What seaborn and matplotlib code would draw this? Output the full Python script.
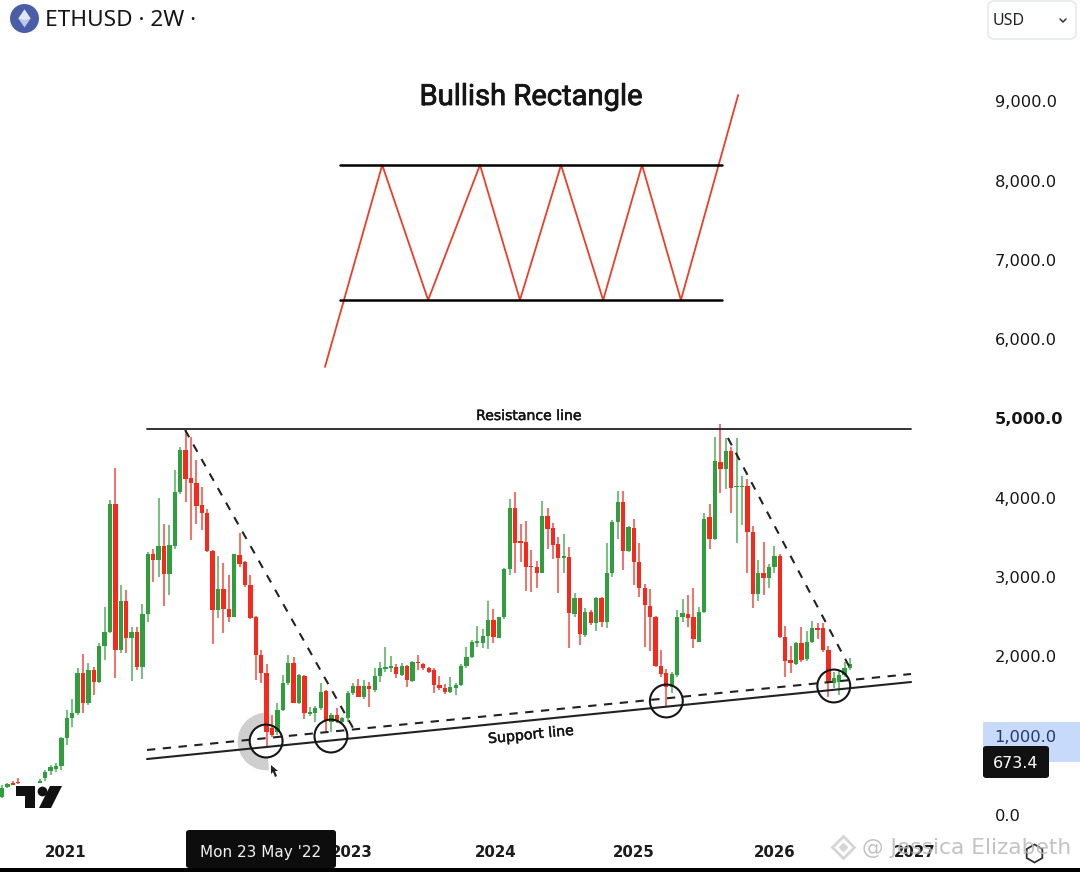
import numpy as np
import pandas as pd
import matplotlib.pyplot as plt
import matplotlib.patheffects as pe
from matplotlib.patches import FancyBboxPatch, Polygon, Circle, Rectangle
from matplotlib.path import Path
from matplotlib.markers import MarkerStyle
import seaborn as sns

nan = np.nan

#2 week candles
opens = [231,357,399,416,nan,nan,nan,407,462,559,
         576,618,967,1219,1281,1786,1407,1827,1672,2130,
         2310,3917,2079,2698,2226,2303,1869,2541,3297,3213,
         3390,3045,3390,4071,4607,4245,4190,3906,3812,3333,
         2583,2848,2600,2499,3276,3192,2906,2499,2024,1797,
         1092,1050,1323,1659,1920,1407,1751,1273,1290,1344,
         1566,1176,1260,1176,1218,1533,1625,1484,1631,1576,
         1753,1837,1849,1870,1765,1879,1694,1933,1904,1849,
         1828,1639,1605,1555,1605,1639,1879,1996,2165,2173,
         2257,2459,2236,2492,3098,3867,3459,3447,3144,3123,
         3056,3770,3615,3417,3245,3249,2534,2732,2270,2564,
         2417,2740,2438,3056,3699,3942,3333,3615,3194,2858,
         2639,2501,1879,1786,1618,1765,2492,2534,2501,2186,
         2564,3753,3476,4455,4363,4590,4131,4140,4148,3564,
         2782,3047,2984,3131,3270,2249,1954,1904,2165,1963,
         2177,2354,2354,2080,1660,1681,1765,1858]
closes = [336,391,382,399,nan,nan,nan,433,546,601,
          618,967,1219,1290,1786,1407,1827,1672,2130,2310,
          3917,2079,2698,2226,2303,1869,2541,3297,3213,3390,
          3045,3402,4071,4607,4236,4181,3900,3812,3333,2583,
          2848,2597,2499,3286,3171,2898,2486,2024,1797,1050,
          1008,1323,1667,1920,1407,1764,1281,1302,1344,1554,
          1197,1260,1189,1218,1533,1625,1491,1631,1584,1753,
          1849,1870,1879,1778,1879,1702,1925,1912,1849,1807,
          1639,1597,1555,1610,1639,1879,1996,2186,2194,2257,
          2459,2240,2492,3098,3867,3434,3434,3131,3127,3056,
          3770,3610,3404,3236,3266,2543,2732,2278,2564,2417,
          2732,2438,3056,3699,3942,3333,3627,3194,2858,2648,
          2501,1879,1778,1618,1778,2492,2543,2488,2215,2564,
          3732,3476,4464,4363,4590,4119,4153,4153,3564,2782,
          3047,2984,3131,3270,2240,1946,1912,2165,1954,2177,
          2354,2333,2080,1681,1723,1765,1849,1904]
highs = [378,407,433,462,nan,nan,nan,450,567,630,
         651,988,1323,1458,1849,2029,1919,1870,2172,2625,
         3970,4370,2898,2835,2373,2373,2667,3318,3360,4002,
         3666,3654,4347,4644,4853,4770,4476,4140,3864,3339,
         3263,3180,3024,3297,3559,3205,3024,2507,2079,1898,
         1260,1407,1764,2016,1995,1777,1764,1365,1373,1659,
         1575,1289,1344,1239,1566,1659,1709,1702,1681,1849,
         1933,2122,2005,1900,1921,1891,1946,2017,1921,1862,
         1849,1753,1652,1744,1660,1900,2122,2207,2383,2341,
         2703,2598,2501,3110,3989,4077,3669,3711,3341,3207,
         3959,3867,3686,3501,3543,3383,2803,2740,2606,2585,
         2744,2753,3434,3720,4085,4089,3644,3728,3425,2913,
         2854,2513,2080,1837,1799,2585,2723,2774,2858,2618,
         3812,3921,4770,4930,4758,4644,4749,4279,4237,3644,
         3215,3438,3165,3392,3287,2383,2131,2186,2375,2324,
         2450,2417,2417,2131,1807,1828,1933,1975]
lows = [210,336,374,391,nan,nan,nan,399,433,504,
        546,567,882,1113,1260,1281,1386,1512,1659,1953,
        2289,1722,2037,2037,1693,1827,1709,2436,2940,3003,
        2637,2772,3360,4054,3948,3465,3675,3591,3318,2156,
        2478,2289,2436,2491,3129,2877,2470,1701,1659,861,
        987,1008,1315,1638,1407,1399,1205,1247,1176,1323,
        1050,1050,1155,1163,1176,1512,1491,1458,1358,1555,
        1681,1807,1807,1723,1753,1618,1681,1828,1828,1786,
        1534,1576,1521,1542,1513,1627,1849,1975,2122,2110,
        2089,2165,2228,2467,3026,3056,3194,2829,2808,2858,
        3047,3350,3224,2803,3056,2101,2501,2143,2249,2396,
        2324,2366,2354,3005,3476,3089,3320,2900,2753,2114,
        2072,1870,1744,1374,1534,1736,2438,2375,2101,2177,
        2543,3350,3467,4064,4106,3812,3425,3657,3047,2614,
        2703,2770,2858,3047,2228,1744,1786,1891,1933,1946,
        2165,2215,2059,1492,1597,1513,1744,1828]

#axis labels
price_ticks = [0,1000,2000,3000,4000,5000,6000,7000,8000,9000]
price_labels = ['0.0','1,000.0','2,000.0','3,000.0','4,000.0','5,000.0','6,000.0','7,000.0','8,000.0','9,000.0']
year_ticks = [11.85,64.8,91.5,117,143,169]
year_labels = ['2021','2023','2024','2025','2026','2027']

#drawn lines on the chart
resistance_x = [26.85,168.3]
resistance_y = [4868,4868]
support_x = [26.85,168.3]
support_y = [706,1677]
support_dash_y = [820,1778]
trend1_x = [33.9,65]
trend1_y = [4855,1097]
trend2_x = [134.4,157.4]
trend2_y = [4754,1803]
touch_x = [48.9,60.9,123,154]
touch_y = [933,996,1438,1627]

#the small pattern sketch
rect_x = [62.6,133.3]
rect_top = [8197,8197]
rect_bottom = [6494,6494]
zig_x = [59.8,70.4,78.9,88.5,95.9,103.5,111.3,118.5,125.7,136.3]
zig_y = [5650,8197,6494,8197,6494,8197,6494,8197,6494,9079]

GREEN = '#2f9e3c'
RED = '#f7281c'
W, H = 1080, 872

sns.set_theme(style='white')
plt.rcParams['font.family'] = ['DejaVu Sans']

candles = pd.DataFrame({'open':opens,'high':highs,'low':lows,'close':closes}).dropna()
candles['x'] = candles.index
candles['bottom'] = candles[['open','close']].min(axis=1)
candles['height'] = (candles['close']-candles['open']).abs()
up = candles[candles['close']>=candles['open']]
down = candles[candles['close']<candles['open']]

fig = plt.figure(figsize=(10.8,8.72),dpi=100,facecolor='white')
ax = fig.add_axes([0,1-835/H,985/W,835/H])

#candle wicks and bodies
ax.vlines(up['x'],up['low'],up['high'],color='#5cb665',linewidth=1.2,zorder=3)
ax.vlines(down['x'],down['low'],down['high'],color='#f4584e',linewidth=1.2,zorder=3)
sns.barplot(x=up['x'].values,y=up['height'].values,bottom=up['bottom'].values,native_scale=True,
            color=GREEN,saturation=1,width=0.8,errorbar=None,linewidth=0,ax=ax,zorder=4)
sns.barplot(x=down['x'].values,y=down['height'].values,bottom=down['bottom'].values,native_scale=True,
            color=RED,saturation=1,width=0.8,errorbar=None,linewidth=0,ax=ax,zorder=4)

#grey click highlight and the white centre of the first circle
wedge = MarkerStyle(Path.wedge(85,275))
ax.scatter([touch_x[0]],[touch_y[0]],marker=wedge,s=1750,color='#cfcfcf',linewidth=0,zorder=2)
ax.scatter([touch_x[0]],[touch_y[0]],marker='o',s=560,color='white',linewidth=0,zorder=2.5)

#support and resistance
sns.lineplot(x=resistance_x,y=resistance_y,color='#222222',linewidth=1.3,ax=ax,zorder=5)
sns.lineplot(x=support_x,y=support_y,color='#222222',linewidth=1.5,ax=ax,zorder=5)
sns.lineplot(x=support_x,y=support_dash_y,color='#222222',linewidth=1.5,dashes=(4,3.6),ax=ax,zorder=5)
sns.lineplot(x=trend1_x,y=trend1_y,color='#222222',linewidth=1.5,dashes=(4,4),ax=ax,zorder=5)
sns.lineplot(x=trend2_x,y=trend2_y,color='#222222',linewidth=1.5,dashes=(4,4),ax=ax,zorder=5)
sns.scatterplot(x=touch_x,y=touch_y,s=560,facecolor='none',edgecolor='#151515',linewidth=1.5,ax=ax,zorder=6)

#bullish rectangle sketch
sns.lineplot(x=rect_x,y=rect_top,color='black',linewidth=1.8,ax=ax,zorder=5)
sns.lineplot(x=rect_x,y=rect_bottom,color='black',linewidth=1.8,ax=ax,zorder=5)
sns.lineplot(x=zig_x,y=zig_y,color='#ee3d26',linewidth=1.3,sort=False,ax=ax,zorder=4)

ax.set_xlim(-0.37,182)
ax.set_ylim(-252,10277)
sns.despine(ax=ax,left=True,bottom=True,right=True,top=True)
ax.grid(False)
ax.patch.set_alpha(0)
ax.set_xlabel('')
ax.set_ylabel('')

ax.yaxis.tick_right()
ax.set_yticks(price_ticks)
ax.set_yticklabels(price_labels,fontsize=11.7,color='#151515')
ax.set_xticks(year_ticks)
ax.set_xticklabels(year_labels,fontsize=10.8,fontweight='bold',color='#1c1c1c')
ax.tick_params(axis='both',length=0)
ax.tick_params(axis='y',pad=7)
ax.tick_params(axis='x',pad=7)
for lab in ax.get_yticklabels():
    if lab.get_text()=='5,000.0':
        lab.set_fontweight('bold')
    if lab.get_text()=='1,000.0':
        lab.set_color('#1f3a6e')
        lab.set_zorder(12)

#chart annotations, a thin stroke makes them a bit heavier like the original
heavy = [pe.withStroke(linewidth=0.35,foreground='#151515')]
fig.text(529/W,1-416/H,'Resistance line',fontsize=10.1,ha='center',va='center',color='#151515',path_effects=heavy)
fig.text(531/W,1-735/H,'Support line',fontsize=10.2,ha='center',va='center',rotation=5.7,color='#151515',path_effects=heavy)
fig.text(531/W,1-97/H,'Bullish Rectangle',fontsize=21,ha='center',va='center',color='#151515',family='Roboto',
         path_effects=[pe.withStroke(linewidth=0.6,foreground='#151515')])

#everything below is placed in pixels of the frame
def px_rect(x0,y0,x1,y1,**kw):
    return FancyBboxPatch((x0/W,1-y1/H),(x1-x0)/W,(y1-y0)/H,transform=fig.transFigure,**kw)

#price labels on the right
fig.add_artist(Rectangle((983/W,1-762/H),97/W,40/H,transform=fig.transFigure,color='#c7dafa',linewidth=0,zorder=-1))
fig.add_artist(px_rect(983,746,1049,778,boxstyle='round,pad=0,rounding_size=0.003',color='#111111',linewidth=0,zorder=5))
fig.text(1016/W,1-763/H,'673.4',fontsize=11.5,color='white',ha='center',va='center',zorder=6)

#crosshair date
fig.add_artist(px_rect(186,830,336,868,boxstyle='round,pad=0,rounding_size=0.003',color='#0d0d0d',linewidth=0,zorder=5))
fig.text(261/W,1-852/H,"Mon 23 May '22",fontsize=11,color='#f2f2f2',ha='center',va='center',zorder=6)

#header
hdr = fig.add_axes([10/W,1-33/H,29/W,29/H])
hdr.set_xlim(-1,1)
hdr.set_ylim(-1,1)
hdr.axis('off')
hdr.add_patch(Circle((0,0),1,color='#4a5ea8',linewidth=0))
hdr.add_patch(Polygon([(0,0.62),(0.42,0),(0,-0.62),(-0.42,0)],color='#bcc9ea',linewidth=0))
hdr.add_patch(Polygon([(0,0.62),(0.42,0),(0,-0.1),(-0.42,0)],color='#e1e7f6',linewidth=0))
fig.text(45/W,1-21/H,'ETHUSD · 2W ·',fontsize=16.3,color='#151515',ha='left',va='center',family='Noto Sans')
fig.add_artist(px_rect(988,1,1076,39,boxstyle='round,pad=0,rounding_size=0.006',facecolor='white',edgecolor='#e3e5ea',linewidth=1))
fig.text(993/W,1-21/H,'USD',fontsize=11.5,color='#222222',ha='left',va='center',family='Noto Sans')
fig.add_artist(plt.Line2D([1060/W,1063/W,1066/W],[1-19/H,1-22/H,1-19/H],color='#333333',linewidth=1.1))

#tradingview logo
logo = [[(16,786),(35,786),(35,808),(25,808),(25,796),(16,796)],[(50,786),(62,786),(51,808),(39,808)]]
for poly in logo:
    fig.add_artist(Polygon([(x/W,1-y/H) for x,y in poly],transform=fig.transFigure,color='#111111',linewidth=0))
fig.add_artist(plt.Line2D([42/W],[1-790.5/H],marker='o',markersize=6,color='#111111',linewidth=0))

#mouse pointer
pointer = [(271,765),(271,774),(273,772),(275,777),(277,776),(275,771),(278,771)]
fig.add_artist(Polygon([(x/W,1-y/H) for x,y in pointer],transform=fig.transFigure,color='#222222',linewidth=0))

#watermark, settings icon and bottom edge
fig.add_artist(plt.Line2D([1034/W],[1-853/H],marker='h',markersize=13,markerfacecolor='none',markeredgecolor='#333333',markeredgewidth=1.3,linewidth=0))
fig.add_artist(plt.Line2D([843/W],[1-847/H],marker='D',markersize=11,markerfacecolor='none',markeredgecolor='#d5d5d5',markeredgewidth=2,linewidth=0))
fig.add_artist(plt.Line2D([843/W],[1-847/H],marker='D',markersize=4,color='#d5d5d5',linewidth=0))
fig.text(862/W,1-848/H,'@ Jessica Elizabeth',fontsize=15.7,color='#b9b9b9',alpha=0.85,ha='left',va='center',zorder=8)
fig.add_artist(Rectangle((0,0),1,4/H,transform=fig.transFigure,color='black',linewidth=0))

plt.savefig('out.png',dpi=100)
